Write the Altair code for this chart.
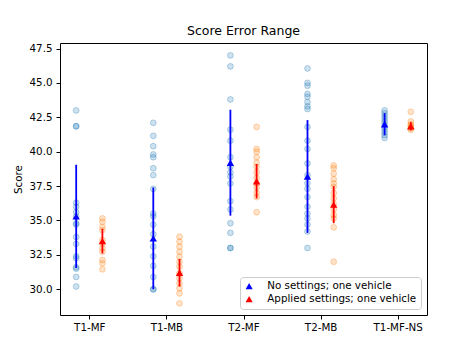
import altair as alt
import pandas as pd

categories = ["T1-MF", "T1-MB", "T2-MF", "T2-MB", "T1-MF-NS"]
series_names = ["No settings; one vehicle", "Applied settings; one vehicle"]

blue_points = [
    [43.0, 41.85, 41.85, 36.3, 36.0, 35.6, 35.3, 34.8, 34.7, 33.8, 33.3, 32.4, 32.25, 31.6, 31.5, 30.9, 30.2],
    [42.1, 41.15, 40.4, 39.8, 39.6, 38.8, 38.3, 37.3, 35.5, 35.3, 34.7, 34.0, 33.1, 32.4, 31.7, 30.9, 30.0, 30.0],
    [47.0, 46.2, 43.8, 41.6, 40.8, 39.6, 38.9, 38.5, 38.2, 37.7, 36.4, 35.8, 34.8, 34.1, 33.0, 33.0],
    [46.05, 45.0, 44.8, 44.2, 44.0, 43.6, 43.3, 43.1, 41.8, 40.8, 40.2, 39.15, 38.3, 37.7, 37.3, 36.7, 36.0, 35.5, 35.15, 34.7, 34.2, 33.0],
    [43.0, 42.8, 42.6, 42.4, 42.2, 42.0, 41.8, 41.6, 41.4, 41.2, 41.0],
]
orange_points = [
    [35.15, 34.9, 34.54, 34.3, 33.58, 33.34, 32.98, 32.73, 32.13, 31.89, 31.45],
    [33.82, 33.46, 33.1, 32.73, 32.37, 32.0, 31.64, 31.16, 30.8, 30.43, 30.07, 29.7, 28.98],
    [41.8, 40.2, 40.0, 39.6, 39.2, 38.9, 38.5, 38.1, 37.7, 37.4, 37.0, 36.7, 35.6],
    [39.0, 38.8, 38.4, 38.0, 37.7, 37.45, 37.0, 36.6, 36.2, 35.8, 35.4, 35.15, 34.5, 32.0],
    [42.9, 42.2, 42.0, 41.9, 41.8, 41.7, 41.6],
]
blue_mean = [35.3, 33.7, 39.2, 38.2, 42.0]
blue_err = [3.75, 3.7, 3.85, 4.1, 0.8]
orange_mean = [33.5, 31.2, 37.85, 36.15, 41.85]
orange_err = [0.9, 1.0, 1.25, 1.35, 0.3]
y_ticks = [30, 32.5, 35, 37.5, 40, 42.5, 45, 47.5]

OFFSET = 0.17

pts_rows = []
for i, cat in enumerate(categories):
    for v in blue_points[i]:
        pts_rows.append({"x": i - OFFSET, "y": v, "s": "blue"})
    for v in orange_points[i]:
        pts_rows.append({"x": i + OFFSET, "y": v, "s": "orange"})
pts = pd.DataFrame(pts_rows)

mean_rows = []
for i, cat in enumerate(categories):
    mean_rows.append({"x": i - OFFSET, "m": blue_mean[i], "lo": blue_mean[i] - blue_err[i],
                      "hi": blue_mean[i] + blue_err[i], "series": series_names[0]})
    mean_rows.append({"x": i + OFFSET, "m": orange_mean[i], "lo": orange_mean[i] - orange_err[i],
                      "hi": orange_mean[i] + orange_err[i], "series": series_names[1]})
means = pd.DataFrame(mean_rows)

label_expr = "[" + ",".join("'%s'" % c for c in categories) + "][datum.value]"

xs = alt.Scale(domain=[-0.38, 4.38], nice=False, zero=False)
ys = alt.Scale(domain=[28.13, 47.9], nice=False, zero=False)

x_axis = alt.Axis(values=[0, 1, 2, 3, 4], labelExpr=label_expr, grid=False, title=None,
                  domain=False, tickColor="black", tickSize=4, labelPadding=3,
                  labelFontSize=10.3, labelColor="black", labelFont="DejaVu Sans")
y_axis = alt.Axis(values=y_ticks, format=".1f", grid=False, labelOverlap=False,
                  title="Score", domain=False, tickColor="black", tickSize=4, labelPadding=4,
                  labelFontSize=10.3, labelColor="black", labelFont="DejaVu Sans",
                  titleFontWeight="normal", titleFontSize=10.3, titleColor="black",
                  titleFont="DejaVu Sans", titlePadding=6)

pal = alt.Scale(domain=["blue", "orange"], range=["#1f77b4", "#ff7f0e"])

points = alt.Chart(pts).mark_circle(size=34, fillOpacity=0.22, strokeOpacity=0.3, strokeWidth=1).encode(
    x=alt.X("x:Q", scale=xs, axis=x_axis),
    y=alt.Y("y:Q", scale=ys, axis=y_axis),
    color=alt.Color("s:N", scale=pal, legend=None),
    stroke=alt.Stroke("s:N", scale=pal, legend=None),
)

cscale = alt.Scale(domain=series_names, range=["#0000ff", "#ff0000"])

bars = alt.Chart(means).mark_rule(strokeWidth=1.8).encode(
    x=alt.X("x:Q", scale=xs, axis=x_axis),
    y=alt.Y("lo:Q", scale=ys, axis=y_axis),
    y2="hi:Q",
    color=alt.Color("series:N", scale=cscale, legend=None),
)

tri = alt.Chart(means).mark_point(shape="triangle-up", filled=True, opacity=1, size=55).encode(
    x=alt.X("x:Q", scale=xs, axis=x_axis),
    y=alt.Y("m:Q", scale=ys, axis=y_axis),
    color=alt.Color("series:N", scale=cscale,
                    legend=alt.Legend(title=None, orient="bottom-right", offset=6,
                                      symbolType="triangle-up", symbolSize=50,
                                      labelFontSize=10.3, labelFont="DejaVu Sans", labelColor="black",
                                      strokeColor="#cccccc", fillColor="white", cornerRadius=3,
                                      padding=4, rowPadding=2, labelOffset=13, symbolOpacity=1)),
)

chart = alt.layer(points, bars, tri).resolve_scale(color="independent", stroke="independent").properties(
    width=367, height=272,
    title=alt.Title("Score Error Range", fontSize=12.5, fontWeight="normal", font="DejaVu Sans",
                    color="black", offset=6),
    autosize=alt.AutoSizeParams(type="none"),
    padding={"left": 60, "top": 43, "right": 47, "bottom": 40},
).configure(background="white").configure_view(stroke="black", strokeWidth=1)

chart.save("out.html", embed_options={"renderer": "svg", "actions": False})
